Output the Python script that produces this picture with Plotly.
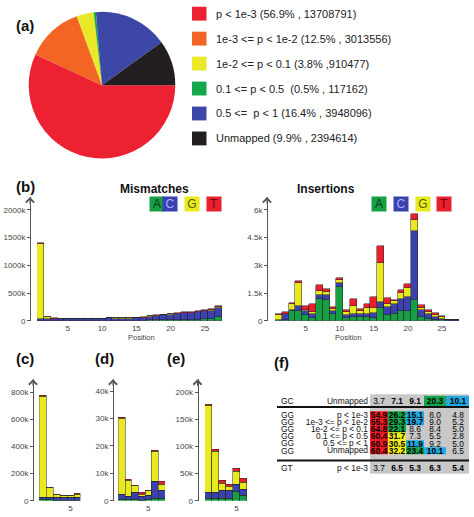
import plotly.graph_objects as go

W, H = 474, 517
def px(x): return x / W
def py(y): return 1 - y / H

FONT = "Liberation Sans, Arial, sans-serif"

# ---------------- (a) pie ----------------
pie_labels = ["p < 1e-3", "1e-3 <= p < 1e-2", "1e-2 <= p < 0.1",
              "0.1 <= p < 0.5", "0.5 <= p < 1", "Unmapped"]
pie_counts = [13708791, 3013556, 910477, 117162, 3948096, 2394614]
pie_legend_text = ["p < 1e-3 (56.9% , 13708791)",
                   "1e-3 <= p < 1e-2 (12.5% , 3013556)",
                   "1e-2 <= p < 0.1 (3.8% ,910477)",
                   "0.1 <= p < 0.5  (0.5% , 117162)",
                   "0.5 <=  p < 1 (16.4% , 3948096)",
                   "Unmapped (9.9% , 2394614)"]
pie_colors = ["#ec2233", "#f26524", "#e9e92a", "#12a84b", "#3d47a8", "#231f20"]

# ---------------- bar data (thousands) ----------------
bases = ["A", "C", "G", "T"]
base_colors = {"A": "#169e45", "C": "#3b42ae", "G": "#e8ea1e", "T": "#e8202e"}
base_text_colors = {"A": "#063a16", "C": "#a8adff", "G": "#5c5a00", "T": "#7a0010"}

positions27 = list(range(1, 28))
mis_A = [3, 3, 2, 2, 2, 2, 2, 2, 2, 2, 3, 3, 3, 3, 3, 4, 6, 7, 8, 10, 12, 14, 16, 20, 28, 35, 65]
mis_C = [25, 28, 28, 28, 28, 30, 30, 30, 30, 32, 40, 38, 38, 38, 40, 48, 70, 80, 90, 98, 105, 118, 120, 135, 140, 150, 160]
mis_G = [1360, 30, 8, 5, 5, 4, 4, 4, 4, 4, 8, 6, 6, 6, 6, 6, 8, 8, 8, 8, 8, 10, 10, 10, 12, 12, 15]
mis_T = [10, 15, 6, 4, 4, 3, 3, 3, 3, 3, 6, 5, 5, 5, 5, 5, 6, 6, 6, 7, 7, 10, 8, 10, 12, 14, 25]

ins_A = [0.03, 0.05, 0.55, 0.55, 0.30, 0.15, 1.20, 1.10, 0.35, 1.85, 0.15, 0.20, 0.20, 0.20,
         0.15, 0.70, 0.30, 0.35, 0.55, 0.55, 1.15, 0.20, 0.10, 0.05, 0.02, 0.01, 0.01]
ins_C = [0.03, 0.30, 0.05, 0.25, 0.25, 0.20, 0.22, 0.30, 0.20, 0.20, 0.15, 0.15, 0.15, 0.15,
         0.25, 0.30, 0.45, 0.55, 0.65, 0.75, 3.70, 0.40, 0.25, 0.15, 0.08, 0.02, 0.02]
ins_G = [0.28, 0.03, 0.33, 1.25, 0.05, 0.10, 0.20, 0.15, 0.10, 0.15, 0.15, 0.45, 0.20, 0.35,
         0.30, 2.10, 0.15, 0.15, 0.30, 0.45, 0.60, 0.10, 0.15, 0.10, 0.10, 0.01, 0.01]
ins_T = [0.02, 0.10, 0.02, 0.10, 0.22, 0.45, 0.33, 0.15, 0.10, 0.10, 0.15, 0.40, 0.10, 0.20,
         0.60, 0.95, 0.35, 0.10, 0.15, 0.25, 0.35, 0.15, 0.10, 0.10, 0.05, 0.01, 0.01]

c_pos = [1, 2, 3, 4, 5, 6]
c_A = [8, 8, 5, 5, 5, 5]
c_C = [20, 18, 20, 20, 20, 22]
c_G = [745, 70, 20, 12, 12, 22]
c_T = [7, 4, 3, 3, 3, 3]

d_pos = [1, 2, 3, 4, 5, 6, 7]
d_A = [0.5, 0.5, 0.5, 0.3, 0.4, 1.0, 1.0]
d_C = [2.0, 1.0, 2.5, 1.2, 1.6, 6.0, 3.0]
d_G = [27.5, 6.0, 2.5, 1.0, 1.8, 11.0, 2.0]
d_T = [0.3, 0.2, 0.2, 0.5, 0.2, 0.3, 1.0]

e_pos = [1, 2, 3, 4, 5, 6]
e_A = [5, 5, 5, 5, 18, 10]
e_C = [10, 10, 15, 15, 12, 12]
e_G = [160, 77, 12, 6, 25, 13]
e_T = [3, 3, 6, 4, 5, 7]

mis_ticks = [0, 500, 1000, 1500, 2000]
mis_ticktext = ["0", "500k", "1000k", "1500k", "2000k"]
ins_ticks = [0, 1.5, 3, 4.5, 6]
ins_ticktext = ["0", "1.5k", "3k", "4.5k", "6k"]
c_ticks = [0, 200, 400, 600, 800]
c_ticktext = ["0", "200k", "400k", "600k", "800k"]
d_ticks = [0, 10, 20, 30, 40]
d_ticktext = ["0", "10k", "20k", "30k", "40k"]
e_ticks = [0, 50, 100, 150, 200]
e_ticktext = ["0", "50k", "100k", "150k", "200k"]

# ---------------- (f) table ----------------
col_edges = [0, 18, 36, 53.5, 76, 99]
hdr_group, hdr_label = "GC", "Unmapped"
hdr_vals = [3.7, 7.1, 9.1, 20.3, 10.1]
hdr_cols = ["gray", "gray", "gray", "green", "cyan"]
hdr_bold = [0, 1, 1, 1, 1]
body_group = "GG"
body_labels = ["p < 1e-3", "1e-3 <= p < 1e-2", "1e-2 <= p < 0.1",
               "0.1 <= p < 0.5", "0.5 <= p < 1", "Unmapped"]
body_vals = [[54.9, 26.2, 15.1, 8.0, 4.8],
             [55.3, 29.3, 19.7, 9.0, 5.2],
             [64.8, 22.1, 8.6, 8.4, 5.0],
             [60.4, 31.7, 7.3, 5.5, 2.8],
             [60.9, 30.5, 11.9, 9.2, 5.0],
             [60.4, 32.2, 23.4, 10.1, 6.5]]
body_cols = [["red", "green", "cyan", "gray", "gray"],
             ["red", "green", "cyan", "gray", "gray"],
             ["red", "green", "gray", "gray", "gray"],
             ["red", "yellow", "gray", "gray", "gray"],
             ["red", "yellow", "cyan", "gray", "gray"],
             ["red", "yellow", "green", "cyan", "gray"]]
ftr_group, ftr_label = "GT", "p < 1e-3"
ftr_vals = [3.7, 6.5, 5.3, 6.3, 5.4]
ftr_cols = ["gray"] * 5
ftr_bold = [0, 1, 1, 1, 1]

cell_code = {"gray": 0, "red": 1, "green": 2, "cyan": 3, "yellow": 4}
cell_scale = [[0, "#c8c8c8"], [0.2, "#c8c8c8"], [0.2, "#ec1c24"], [0.4, "#ec1c24"],
              [0.4, "#16a34a"], [0.6, "#16a34a"], [0.6, "#22a9e1"], [0.8, "#22a9e1"],
              [0.8, "#f1ee1d"], [1, "#f1ee1d"]]

fig = go.Figure()

fig.add_trace(go.Pie(values=pie_counts, labels=pie_labels, marker=dict(colors=pie_colors, line=dict(width=0)),
                     sort=False, direction="clockwise", rotation=90, textinfo="none",
                     hoverinfo="label+value+percent", showlegend=False,
                     domain=dict(x=[px(28), px(176)], y=[py(160), py(12)])))

line_style = dict(color="#222222", width=0.5)
def add_stack(xs, series, xa, ya):
    for b, vals in zip(bases, series):
        fig.add_trace(go.Bar(x=xs, y=vals, marker=dict(color=base_colors[b], line=line_style),
                             name=b, showlegend=False, xaxis=xa, yaxis=ya))

add_stack(positions27, [mis_A, mis_C, mis_G, mis_T], "x", "y")
add_stack(positions27, [ins_A, ins_C, ins_G, ins_T], "x2", "y2")
add_stack(c_pos, [c_A, c_C, c_G, c_T], "x3", "y3")
add_stack(d_pos, [d_A, d_C, d_G, d_T], "x4", "y4")
add_stack(e_pos, [e_A, e_C, e_G, e_T], "x5", "y5")

def fmt(v, b):
    s = f"{v:.1f}"
    return f"<b>{s}</b>" if b else s

TS = 8.4
tfont = dict(family=FONT, size=TS, color="#000000")
hm_common = dict(texttemplate="%{text}", textfont=tfont, colorscale=cell_scale, zmin=-0.5, zmax=4.5,
                 showscale=False, xaxis="x6", hoverinfo="skip", x=col_edges)
fig.add_trace(go.Heatmap(z=[[cell_code[c] for c in hdr_cols]], y=[hdr_label],
                         text=[[fmt(v, b) for v, b in zip(hdr_vals, hdr_bold)]], yaxis="y6", **hm_common))
fig.add_trace(go.Heatmap(z=[[cell_code[c] for c in row] for row in body_cols], y=body_labels,
                         text=[[fmt(v, c != "gray") for v, c in zip(rv, rc)] for rv, rc in zip(body_vals, body_cols)],
                         yaxis="y7", **hm_common))
fig.add_trace(go.Heatmap(z=[[cell_code[c] for c in ftr_cols]], y=[ftr_label],
                         text=[[fmt(v, b) for v, b in zip(ftr_vals, ftr_bold)]], yaxis="y8", **hm_common))

tickfont = dict(family=FONT, size=8, color="#444444")
axis_col = "#555555"

def xax(dom, rng, tv, anchor):
    return dict(domain=[px(dom[0]), px(dom[1])], range=rng, tickmode="array", tickvals=tv, ticks="",
                showline=False, anchor=anchor, showgrid=False, zeroline=False, tickfont=tickfont,
                ticklabelstandoff=1, fixedrange=True)

def yax(xpos, bottom, top, rng, tv, tt):
    return dict(domain=[py(bottom), py(top)], range=rng, tickmode="array", tickvals=tv, ticktext=tt,
                anchor="free", position=px(xpos), showline=True, linecolor=axis_col, linewidth=1,
                ticks="outside", ticklen=3, tickcolor=axis_col, tickwidth=1, showgrid=False,
                zeroline=False, tickfont=tickfont, fixedrange=True)

def tyax(bottom, top, labels, rev=False):
    d = dict(domain=[py(bottom), py(top)], anchor="x6", showline=False, ticks="", showgrid=False,
             zeroline=False, tickmode="array", tickvals=labels, ticktext=labels,
             tickfont=dict(family=FONT, size=TS, color="#111"), ticklabelstandoff=1, fixedrange=True)
    if rev:
        d["autorange"] = "reversed"
    return d

mis_top = 2000 * (324 - 199) / (324 - 212)
ins_top = 6 * (324 - 199) / (324 - 212)
c_top = 800 * (505.7 - 383) / (505.7 - 396)
d_top = 40 * (505.7 - 383) / (505.7 - 395)
e_top = 200 * (505.7 - 383) / (505.7 - 396)

fig.update_layout(
    width=W, height=H, margin=dict(l=0, r=0, t=0, b=0), autosize=False,
    paper_bgcolor="white", plot_bgcolor="rgba(0,0,0,0)",
    barmode="stack", bargap=0, font=dict(family=FONT, color="#222222"),
    xaxis=xax((37, 222), [0.5, 27.5], [5, 10, 15, 20, 25], "y"),
    yaxis=yax(30, 324, 199, [0, mis_top], mis_ticks, mis_ticktext),
    xaxis2=xax((275, 459), [0.5, 27.5], [5, 10, 15, 20, 25], "y2"),
    yaxis2=yax(267, 324, 199, [0, ins_top], ins_ticks, ins_ticktext),
    xaxis3=xax((39.3, 80.7), [0.5, 6.5], [5], "y3"),
    yaxis3=yax(33, 505.7, 383, [0, c_top], c_ticks, c_ticktext),
    xaxis4=xax((118.3, 165), [0.5, 7.5], [5], "y4"),
    yaxis4=yax(113, 505.7, 383, [0, d_top], d_ticks, d_ticktext),
    xaxis5=xax((205, 247), [0.5, 6.5], [5], "y5"),
    yaxis5=yax(197.5, 505.7, 383, [0, e_top], e_ticks, e_ticktext),
    xaxis6=dict(domain=[px(370), px(469)], range=[0, 99], visible=False, anchor="y8", fixedrange=True),
    yaxis6=tyax(410.5, 398, [hdr_label]),
    yaxis7=tyax(462, 411.8, body_labels, rev=True),
    yaxis8=tyax(478, 465.5, [ftr_label]),
)

shapes = []
annotations = []

# pie legend
for i, (col, txt) in enumerate(zip(pie_colors, pie_legend_text)):
    cy = 13.8 + i * 25.2
    shapes.append(dict(type="rect", xref="paper", yref="paper", x0=px(192), x1=px(206.5),
                       y0=py(cy + 7), y1=py(cy - 7), fillcolor=col, line=dict(width=0)))
    annotations.append(dict(text=txt, xref="paper", yref="paper", x=px(213.5), y=py(cy), xanchor="left",
                            yanchor="middle", showarrow=False, font=dict(family=FONT, size=11, color="#222")))

# panel labels
for lab, (cx, cy) in {"(a)": (14, 15), "(b)": (14, 188), "(c)": (14, 373), "(d)": (93, 373),
                      "(e)": (176, 373), "(f)": (281, 377)}.items():
    annotations.append(dict(text=f"<b>{lab}</b>", xref="paper", yref="paper", x=px(cx), y=py(cy),
                            showarrow=False, font=dict(family=FONT, size=15, color="#111")))

# titles
for t, cx in (("Mismatches", 118), ("Insertions", 356.5)):
    annotations.append(dict(text=f"<b>{t}</b>", xref="paper", yref="paper", x=px(cx), y=py(190.5),
                            showarrow=False, font=dict(family=FONT, size=12, color="#111")))
for cx in (126, 364):
    annotations.append(dict(text="Position", xref="paper", yref="paper", x=px(cx), y=py(340.5),
                            showarrow=False, font=dict(family=FONT, size=7.5, color="#444")))

# base legends
for x0 in (141.5, 380):
    for k, b in enumerate(bases):
        annotations.append(dict(text=b, xref="paper", yref="paper", x=px(x0 + 7 + k * 21.8), y=py(206),
                                showarrow=False, bgcolor=base_colors[b], width=14, height=14, borderpad=0,
                                font=dict(family=FONT, size=12, color=base_text_colors[b])))

# axis arrowheads
for ax_x, tip in ((30, 199), (267, 199), (33, 383), (113, 383), (197.5, 383)):
    annotations.append(dict(text="", xref="paper", yref="paper", x=px(ax_x), y=py(tip), ax=0, ay=8,
                            showarrow=True, arrowhead=4, arrowsize=1.6, arrowwidth=1, arrowcolor=axis_col,
                            standoff=0))

# table group labels
gfont = dict(family=FONT, size=TS, color="#111")
annotations.append(dict(text=hdr_group, xref="paper", yref="y6", x=px(279), y=hdr_label, xanchor="left",
                        showarrow=False, font=gfont))
for lab in body_labels:
    annotations.append(dict(text=body_group, xref="paper", yref="y7", x=px(279), y=lab, xanchor="left",
                            showarrow=False, font=gfont))
annotations.append(dict(text=ftr_group, xref="paper", yref="y8", x=px(279), y=ftr_label, xanchor="left",
                        showarrow=False, font=gfont))

# table background and rules
shapes.append(dict(type="rect", xref="paper", yref="paper", x0=px(370), x1=px(469), y0=py(478), y1=py(398),
                   fillcolor="#c8c8c8", line=dict(width=0), layer="below"))
for yy, wdt in ((411, 2), (465, 2)):
    shapes.append(dict(type="line", xref="paper", yref="paper", x0=px(277), x1=px(469), y0=py(yy), y1=py(yy),
                       line=dict(color="#111", width=wdt)))

fig.update_layout(shapes=shapes, annotations=annotations)
fig.write_html("out.html")
